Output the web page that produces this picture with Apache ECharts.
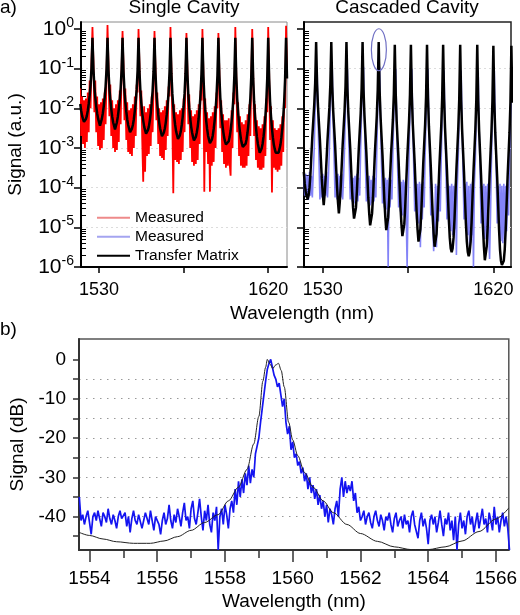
<!DOCTYPE html>
<html>
<head>
<meta charset="utf-8">
<script src="https://cdn.jsdelivr.net/npm/echarts@6/dist/echarts.min.js"></script>
<style>
  html, body { margin: 0; padding: 0; background: #fff; }
  #chart { width: 520px; height: 615px; }
</style>
</head>
<body>
<div id="chart"></div>
<script>
// ---- top panels: one sample every 0.5 nm from 1520 nm, values are log10(signal)
const topStart = 1520;
const topStep = 0.5;

const singleMeasured = [
  -1.5, -2.7, -1.7, -2.9, -1.8, -3.0, -1.75, -2.85, -1.6, -2.6, -1.3, -2.0, -0.8, 0.05,
  -0.8, -2.1, -1.3, -2.6, -1.7, -2.95, -1.9, -3.05, -1.85, -3.0, -1.75, -2.8, -1.6, -2.4, -1.1, 0.1,
  -0.85, -2.2, -1.4, -2.7, -1.8, -3.0, -2.0, -3.1, -1.9, -3.05, -1.8, -2.85, -1.55, -2.4, -1.0, -0.05,
  -0.9, -2.3, -1.5, -2.8, -1.85, -3.1, -2.05, -3.15, -2.0, -3.2, -1.9, -3.0, -1.7, -2.7, -1.4, -1.6, 0.0,
  -0.9, -2.2, -1.55, -2.85, -3.85, -1.95, -3.6, -2.1, -3.2, -2.0, -3.15, -1.9, -2.95, -1.7, -2.6, -1.5, -0.05,
  -0.95, -2.3, -1.6, -2.9, -2.0, -3.2, -2.1, -3.25, -2.05, -3.3, -1.95, -3.05, -1.8, -2.7, -1.45, -1.7, 0.05,
  -1.0, -2.4, -4.14, -1.9, -3.3, -2.1, -3.35, -2.15, -3.4, -2.05, -3.3, -2.0, -3.1, -1.75, -2.6, -1.2, -0.1,
  -1.0, -2.4, -1.65, -3.0, -2.05, -3.35, -2.2, -3.45, -2.15, -3.4, -2.05, -3.3, -1.9, -2.9, -1.55, -1.8, 0.0,
  -1.05, -4.1, -1.75, -3.1, -2.1, -3.4, -2.25, -4.1, -2.2, -3.45, -2.1, -3.35, -1.95, -3.0, -1.6, -2.0, -0.1,
  -1.05, -2.5, -1.8, -3.1, -2.15, -3.4, -2.3, -3.5, -2.3, -3.45, -2.25, -3.4, -3.7, -2.05, -3.0, -1.6, -1.9, 0.05,
  -1.1, -2.6, -1.85, -3.2, -2.2, -3.45, -2.35, -3.5, -2.4, -3.5, -2.3, -3.45, -2.15, -3.2, -1.9, -2.7, -1.3, 0.0,
  -1.1, -2.7, -1.9, -3.3, -2.3, -3.5, -2.45, -3.55, -2.5, -3.55, -2.4, -3.5, -2.2, -3.2, -1.75, -2.1, 0.05,
  -1.1, -2.8, -1.95, -4.12, -2.3, -3.5, -2.5, -3.55, -2.55, -3.6, -2.5, -3.55, -2.4, -3.45, -2.2, -3.1, -1.75, -2.0, 0.08,
  -1.0
];

const singleModel = [
  -1.89, -2.06, -2.19, -2.27, -2.34, -2.34, -2.27, -2.19, -2.06, -1.89, -1.68, -1.40, -0.97, -0.22,
  -1.00, -1.44, -1.73, -1.95, -2.13, -2.26, -2.35, -2.44, -2.35, -2.26, -2.13, -1.95, -1.73, -1.44, -1.00, -0.22,
  -1.03, -1.49, -1.79, -2.02, -2.21, -2.35, -2.44, -2.53, -2.44, -2.35, -2.21, -2.02, -1.79, -1.49, -1.03, -0.22,
  -1.06, -1.53, -1.85, -2.08, -2.28, -2.42, -2.51, -2.60, -2.60, -2.51, -2.42, -2.28, -2.08, -1.85, -1.53, -1.06, -0.22,
  -1.07, -1.56, -1.87, -2.12, -2.31, -2.46, -2.55, -2.64, -2.64, -2.55, -2.46, -2.31, -2.12, -1.87, -1.56, -1.07, -0.22,
  -1.09, -1.59, -1.91, -2.16, -2.36, -2.51, -2.61, -2.70, -2.70, -2.61, -2.51, -2.36, -2.16, -1.91, -1.59, -1.09, -0.22,
  -1.12, -1.63, -1.96, -2.22, -2.42, -2.58, -2.68, -2.77, -2.77, -2.68, -2.58, -2.42, -2.22, -1.96, -1.63, -1.12, -0.22,
  -1.13, -1.65, -1.99, -2.25, -2.46, -2.61, -2.72, -2.81, -2.81, -2.72, -2.61, -2.46, -2.25, -1.99, -1.65, -1.13, -0.22,
  -1.16, -1.69, -2.04, -2.31, -2.52, -2.69, -2.79, -2.88, -2.88, -2.79, -2.69, -2.52, -2.31, -2.04, -1.69, -1.16, -0.22,
  -1.17, -1.72, -2.07, -2.34, -2.56, -2.72, -2.83, -2.91, -2.94, -2.91, -2.83, -2.72, -2.56, -2.34, -2.07, -1.72, -1.17, -0.22,
  -1.19, -1.75, -2.11, -2.39, -2.61, -2.78, -2.89, -2.97, -3.00, -2.97, -2.89, -2.78, -2.61, -2.39, -2.11, -1.75, -1.19, -0.22,
  -1.24, -1.82, -2.20, -2.49, -2.72, -2.90, -3.01, -3.12, -3.12, -3.01, -2.90, -2.72, -2.49, -2.20, -1.82, -1.24, -0.22,
  -1.25, -1.83, -2.21, -2.51, -2.74, -2.92, -3.03, -3.12, -3.15, -3.15, -3.12, -3.03, -2.92, -2.74, -2.51, -2.21, -1.83, -1.25, -0.22,
  -1.25
];

const cascadedMeasured = [
  -3.7, -4.2, -3.65, -4.25, -3.7, -4.3, -3.6, -4.2, -3.7, -4.25, -3.6, -3.0, -2.0, -1.5,
  -0.95, -2.2, -3.3, -4.3, -3.7, -4.25, -3.65, -4.3, -3.7, -4.2, -3.6, -4.25, -3.7, -3.0, -2.0, -1.5,
  -1.0, -2.3, -3.3, -4.25, -3.7, -4.3, -3.65, -4.35, -3.7, -4.25, -3.65, -4.3, -3.7, -3.0, -2.0, -1.5,
  -1.0, -2.2, -3.4, -4.3, -3.7, -4.35, -3.75, -4.4, -3.7, -4.3, -3.65, -4.35, -3.75, -4.2, -3.0, -2.0, -1.5,
  -0.95, -2.3, -3.4, -4.35, -3.75, -4.4, -3.7, -4.45, -3.8, -4.4, -3.7, -4.35, -3.75, -4.25, -3.1, -2.0, -1.5,
  -0.95, -2.3, -3.4, -4.4, -3.8, -4.5, -3.75, -4.55, -3.8, -6.0, -3.75, -4.5, -3.8, -4.3, -3.1, -2.1, -1.6,
  -1.0, -2.3, -3.5, -4.5, -3.8, -4.6, -3.85, -4.7, -3.8, -4.75, -3.85, -4.6, -6.0, -4.4, -3.2, -2.1, -1.6,
  -1.0, -2.4, -3.5, -4.6, -3.85, -4.8, -3.9, -4.9, -3.85, -5.5, -3.9, -4.8, -3.85, -4.5, -3.2, -2.2, -1.6,
  -1.0, -2.4, -3.6, -4.7, -3.9, -4.9, -5.6, -5.0, -3.9, -5.5, -3.95, -4.85, -3.9, -4.6, -3.3, -2.2, -1.6,
  -1.05, -2.5, -3.6, -4.8, -3.9, -5.0, -3.95, -5.1, -3.9, -5.2, -3.95, -5.05, -3.9, -5.7, -3.95, -3.2, -2.2, -1.6,
  -1.05, -2.5, -3.6, -4.8, -3.9, -5.1, -3.85, -5.2, -3.95, -5.6, -3.9, -5.2, -3.85, -6.0, -3.9, -3.3, -2.2, -1.6,
  -1.05, -2.5, -3.6, -4.9, -3.95, -5.2, -3.9, -5.3, -3.95, -5.25, -3.9, -5.1, -5.8, -4.7, -3.3, -2.2, -1.6,
  -1.05, -2.5, -3.6, -4.9, -3.95, -5.2, -3.9, -5.35, -3.95, -5.4, -3.9, -5.3, -3.95, -5.1, -3.9, -4.7, -3.3, -2.2, -1.6,
  -1.0
];

const cascadedModel = [
  -3.60, -3.90, -4.10, -4.22, -4.28, -4.20, -4.00, -3.65, -3.17, -2.70, -2.31, -1.91, -1.36, -0.33,
  -1.40, -1.97, -2.39, -2.80, -3.29, -3.78, -4.15, -4.44, -4.15, -3.78, -3.29, -2.80, -2.39, -1.97, -1.40, -0.33,
  -1.45, -2.06, -2.49, -2.92, -3.44, -3.96, -4.35, -4.65, -4.35, -3.96, -3.44, -2.92, -2.49, -2.06, -1.45, -0.33,
  -1.50, -2.13, -2.58, -3.02, -3.56, -4.10, -4.51, -4.78, -4.78, -4.51, -4.10, -3.56, -3.02, -2.58, -2.13, -1.50, -0.33,
  -1.54, -2.19, -2.66, -3.12, -3.68, -4.24, -4.65, -4.95, -4.95, -4.65, -4.24, -3.68, -3.12, -2.66, -2.19, -1.54, -0.33,
  -1.57, -2.23, -2.71, -3.18, -3.75, -4.32, -4.75, -5.07, -5.07, -4.75, -4.32, -3.75, -3.18, -2.75, -2.28, -1.64, -0.40,
  -1.66, -2.34, -2.83, -3.32, -3.90, -4.48, -4.92, -5.22, -5.22, -4.92, -4.48, -3.90, -3.32, -2.83, -2.34, -1.66, -0.40,
  -1.70, -2.40, -2.90, -3.40, -4.00, -4.60, -5.05, -5.36, -5.36, -5.05, -4.60, -4.00, -3.40, -2.90, -2.40, -1.70, -0.40,
  -1.73, -2.45, -2.97, -3.48, -4.09, -4.71, -5.17, -5.49, -5.49, -5.17, -4.71, -4.09, -3.48, -2.97, -2.45, -1.73, -0.40,
  -1.76, -2.49, -3.02, -3.54, -4.17, -4.79, -5.26, -5.53, -5.63, -5.53, -5.26, -4.79, -4.17, -3.54, -3.02, -2.49, -1.76, -0.40,
  -1.79, -2.53, -3.07, -3.60, -4.24, -4.88, -5.36, -5.62, -5.73, -5.62, -5.36, -4.88, -4.24, -3.60, -3.07, -2.53, -1.79, -0.40,
  -1.82, -2.58, -3.13, -3.68, -4.33, -4.99, -5.48, -5.83, -5.83, -5.48, -4.99, -4.33, -3.68, -3.13, -2.58, -1.82, -0.42,
  -1.86, -2.62, -3.18, -3.73, -4.40, -5.06, -5.56, -5.84, -5.95, -5.95, -5.84, -5.56, -5.06, -4.40, -3.73, -3.18, -2.62, -1.86, -0.42,
  -1.86
];

const decadeTicks = [1e-6, 1e-5, 1e-4, 1e-3, 1e-2, 1e-1, 1];
const topTickValues = [1530, 1575, 1620];
const topLabelValues = [1530, 1620];

// ---- bottom panel: one sample every 0.05 nm from 1553.7 nm, values in dB
const dbStart = 1553.7;
const dbStep = 0.05;
const dbMeasured = [
  -35, -41, -39.5, -42, -40, -38.5, -41.5, -44.5, -40, -39,
  -41, -38.5, -40.5, -42.5, -39, -40, -41.5, -38, -40.5, -42,
  -39.5, -41, -43, -40, -38.5, -40.5, -41, -39, -42.5, -40,
  -44, -40.5, -38.5, -41, -42, -39.5, -40, -43, -41, -39,
  -40.5, -42, -38.5, -41, -43.5, -40, -39.5, -42, -44.5, -41,
  -39, -42, -40.5, -37, -41, -43, -39.5, -41.5, -38, -40,
  -42.5, -39, -36.5, -41, -40, -43, -38, -36, -40.5, -42,
  -39, -35.5, -40, -43.5, -38.5, -41, -37, -42, -44, -39,
  -41, -37.5, -48.5, -40, -38, -42, -37, -39.5, -43, -38,
  -36, -39, -33, -37, -31, -35, -30.5, -34, -29, -32,
  -27, -31.5, -28, -30, -24, -22, -20, -16, -12.5, -9,
  -5.5, -2.5, -1, 0, -2, -4, -5, -7, -6, -9,
  -12, -10, -16, -19, -17, -23, -21, -25, -24, -27,
  -26, -29, -27.5, -31, -29, -33, -30, -34, -32, -35.5,
  -33, -37, -34.5, -38, -36, -40, -37, -41.5, -38, -39.5,
  -42, -38, -36, -40, -33, -30, -35, -31, -34, -32,
  -33.5, -31, -36, -34, -39, -37.5, -41, -40, -38.5, -42,
  -40, -39, -41.5, -43, -40, -38.5, -41, -42.5, -39.5, -41,
  -43.5, -40, -41, -39, -42, -44, -40.5, -39, -42.5, -41,
  -40, -43, -39.5, -42, -41, -44, -40, -38.5, -42, -41.5,
  -45.5, -41, -39, -42.5, -40.5, -43, -47, -41, -39.5, -42,
  -40, -44, -41.5, -38.5, -42, -45, -40.5, -42, -39, -43.5,
  -41, -46, -40, -48.5, -42, -39, -43, -41, -44.5, -40,
  -38.5, -42, -40, -44, -41.5, -39, -43, -40.5, -38, -42,
  -40.5, -44, -39, -41, -43.5, -37.5, -42, -40, -44, -41,
  -39, -42.5, -40, -43, -48.5
];

const modelWl = [1553.69, 1554.0, 1554.4, 1554.8, 1555.3, 1555.8, 1556.2, 1556.6, 1557.0, 1557.4,
  1557.8, 1558.1, 1558.4, 1558.65, 1558.85, 1559.0, 1559.12, 1559.2, 1559.25, 1559.33,
  1559.41, 1559.5, 1559.58, 1559.66, 1559.75, 1559.88, 1560.0, 1560.15, 1560.35, 1560.6,
  1560.9, 1561.2, 1561.6, 1562.0, 1562.5, 1563.0, 1563.5, 1564.0, 1564.5, 1565.0,
  1565.5, 1566.0, 1566.38];
const modelDb = [-44.0, -44.8, -45.7, -46.4, -46.8, -46.8, -46.2, -45.1, -43.5, -41.5,
  -39.5, -36.0, -32.5, -28.0, -21.5, -14.5, -5.5, -2.0, 0, -1.2,
  -2.3, -1.4, -1.0, -2.8, -7.0, -16.0, -20.5, -24.5, -28.8, -32.5,
  -36.0, -39.0, -42.0, -44.3, -46.3, -47.7, -48.4, -48.4, -47.7, -46.2,
  -43.8, -40.6, -37.8];

const dbTickValues = [-45, -40, -35, -30, -25, -20, -15, -10, -5, 0];
const dbLabelValues = [-40, -30, -20, -10, 0];
const wlMajorTicks = [1554, 1556, 1558, 1560, 1562, 1564, 1566];
const wlMinorTicks = [1555, 1557, 1559, 1561, 1563, 1565];

const FONT = '"Liberation Sans", Arial, sans-serif';

// log minor ticks 2..9 of each decade
const minorLogTicks = [];
decadeTicks.slice(0, -1).forEach(function (d) {
  for (let k = 2; k <= 9; k++) minorLogTicks.push(k * d);
});

const toTop = arr => arr.map((e, i) => [topStart + i * topStep, Math.pow(10, e)]);
const plain = v => String(v);

function logAxis(grid, withLabels, extra) {
  return Object.assign({
    type: 'log',
    gridIndex: grid,
    min: 1e-6,
    max: 1.5,
    position: 'left',
    axisLine: { show: true, lineStyle: { color: '#000', width: 2 } },
    axisTick: { show: true, length: 7, customValues: decadeTicks, lineStyle: { color: '#000', width: 1.5 } },
    axisLabel: {
      show: withLabels,
      customValues: decadeTicks,
      margin: 7,
      formatter: function (v) {
        return '{b|10}{s|' + Math.round(Math.log10(v)) + '}';
      },
      rich: {
        b: { fontSize: 21, fontFamily: FONT, color: '#000', lineHeight: 26 },
        s: { fontSize: 14, fontFamily: FONT, color: '#000', lineHeight: 15, verticalAlign: 'top' },
      },
    },
    splitLine: {
      show: true,
      showMinLine: false,
      showMaxLine: false,
      lineStyle: { color: '#dcdcdc', width: 1, type: [2, 3] },
    },
  }, extra || {});
}

function minorLogAxis(grid) {
  return {
    type: 'log',
    gridIndex: grid,
    min: 1e-6,
    max: 1.5,
    position: 'left',
    axisLine: { show: false },
    axisTick: { show: true, inside: true, length: 5, customValues: minorLogTicks, lineStyle: { color: '#000', width: 1 } },
    axisLabel: { show: false },
    splitLine: { show: false },
  };
}

function topXAxis(grid, min, max) {
  return {
    type: 'value',
    gridIndex: grid,
    min: min,
    max: max,
    position: 'bottom',
    axisLine: { show: true, onZero: false, lineStyle: { color: '#000', width: 2 } },
    axisTick: { show: true, length: 6, customValues: topTickValues, lineStyle: { color: '#000', width: 1.5 } },
    axisLabel: { customValues: topLabelValues, formatter: plain, margin: 14, fontSize: 18, fontFamily: FONT, color: '#000' },
    splitLine: { show: false },
  };
}

const chart = echarts.init(document.getElementById('chart'));

chart.setOption({
  animation: false,
  backgroundColor: '#fff',
  grid: [
    { left: 81, top: 22, width: 206, height: 245, show: true, borderColor: '#8a8a8a', borderWidth: 1 },
    { left: 304, top: 22, width: 207, height: 245, show: true, borderColor: '#222', borderWidth: 1.5 },
    { left: 77, top: 339, width: 435, height: 211, show: true, borderColor: '#555', borderWidth: 1.5 },
  ],
  xAxis: [
    topXAxis(0, 1520.4, 1630),
    topXAxis(1, 1520.1, 1629.3),
    {
      type: 'value',
      gridIndex: 2,
      min: 1553.69,
      max: 1566.38,
      position: 'bottom',
      name: 'Wavelength (nm)',
      nameLocation: 'middle',
      nameGap: 42,
      nameTextStyle: { fontSize: 19, fontFamily: FONT, color: '#000' },
      axisLine: { show: true, onZero: false, lineStyle: { color: '#333', width: 2 } },
      axisTick: { show: true, length: 12, customValues: wlMajorTicks, lineStyle: { color: '#333', width: 1.5 } },
      axisLabel: { customValues: wlMajorTicks, formatter: plain, margin: 19, fontSize: 19, fontFamily: FONT, color: '#000' },
      splitLine: { show: false },
    },
    {
      type: 'value',
      gridIndex: 2,
      min: 1553.69,
      max: 1566.38,
      position: 'bottom',
      axisLine: { show: false, onZero: false },
      axisTick: { show: true, length: 8, customValues: wlMinorTicks, lineStyle: { color: '#333', width: 1.5 } },
      axisLabel: { show: false },
      splitLine: { show: false },
    },
  ],
  yAxis: [
    logAxis(0, true, {
      name: 'Signal (a.u.)',
      nameLocation: 'middle',
      nameGap: 56,
      nameTextStyle: { fontSize: 19, fontFamily: FONT, color: '#000' },
    }),
    minorLogAxis(0),
    logAxis(1, false),
    minorLogAxis(1),
    {
      type: 'value',
      gridIndex: 2,
      min: -48.5,
      max: 5.2,
      position: 'left',
      name: 'Signal (dB)',
      nameLocation: 'middle',
      nameGap: 52,
      nameTextStyle: { fontSize: 19, fontFamily: FONT, color: '#000' },
      axisLine: { show: true, onZero: false, lineStyle: { color: '#333', width: 2 } },
      axisTick: { show: true, length: 6, customValues: dbTickValues, lineStyle: { color: '#333', width: 1.5 } },
      axisLabel: { customValues: dbLabelValues, margin: 13, fontSize: 19, fontFamily: FONT, color: '#000' },
      splitLine: {
        show: true,
        showMinLine: false,
        showMaxLine: false,
        lineStyle: { color: '#999', width: 1.2, type: [1.5, 5.5] },
      },
    },
  ],
  legend: {
    left: 97,
    top: 209,
    orient: 'vertical',
    padding: 0,
    itemWidth: 33,
    itemHeight: 2,
    itemGap: 1.5,
    selectedMode: false,
    icon: 'rect',
    textStyle: { fontSize: 15.5, fontFamily: FONT, color: '#000', lineHeight: 17.5 },
    formatter: function (name) {
      return name.indexOf('Measured') === 0 ? 'Measured' : name;
    },
    data: [
      { name: 'Measured single', itemStyle: { color: '#ee8a8a' } },
      { name: 'Measured cascaded', itemStyle: { color: '#a4a4f0' } },
      { name: 'Transfer Matrix', itemStyle: { color: '#000' } },
    ],
  },
  graphic: [
    { type: 'text', x: 0, y: -2, style: { text: 'a)', font: '19px ' + FONT, fill: '#000' } },
    { type: 'text', x: 184, y: -2, style: { text: 'Single Cavity', font: '19px ' + FONT, fill: '#000', textAlign: 'center' } },
    { type: 'text', x: 407, y: -2, style: { text: 'Cascaded Cavity', font: '19px ' + FONT, fill: '#000', textAlign: 'center' } },
    { type: 'text', x: 302, y: 304, style: { text: 'Wavelength (nm)', font: '19px ' + FONT, fill: '#000', textAlign: 'center' } },
    { type: 'text', x: 0, y: 320, style: { text: 'b)', font: '19px ' + FONT, fill: '#000' } },
  ],
  series: [
    {
      name: 'Measured single',
      type: 'line',
      xAxisIndex: 0,
      yAxisIndex: 0,
      data: toTop(singleMeasured),
      symbol: 'none',
      silent: true,
      lineStyle: { color: '#ff0000', width: 1.8 },
      itemStyle: { color: '#ff0000' },
    },
    {
      name: 'Transfer Matrix',
      type: 'line',
      xAxisIndex: 0,
      yAxisIndex: 0,
      data: toTop(singleModel),
      symbol: 'none',
      silent: true,
      lineStyle: { color: '#000', width: 2.5 },
      itemStyle: { color: '#000' },
    },
    {
      name: 'Measured cascaded',
      type: 'line',
      xAxisIndex: 1,
      yAxisIndex: 2,
      data: toTop(cascadedMeasured),
      symbol: 'none',
      silent: true,
      lineStyle: { color: 'rgba(100, 100, 245, 0.8)', width: 1.6 },
      itemStyle: { color: '#8888ee' },
    },
    {
      name: 'Transfer Matrix cascaded',
      type: 'line',
      xAxisIndex: 1,
      yAxisIndex: 2,
      data: toTop(cascadedModel),
      symbol: 'none',
      silent: true,
      lineStyle: { color: '#000', width: 2.5 },
    },
    {
      type: 'custom',
      xAxisIndex: 1,
      yAxisIndex: 2,
      silent: true,
      z: 5,
      data: [[1559.6, 0.3]],
      renderItem: function (params, api) {
        const c = api.coord([api.value(0), api.value(1)]);
        return {
          type: 'ellipse',
          shape: { cx: c[0], cy: c[1], rx: 7.5, ry: 21 },
          style: { fill: 'none', stroke: '#7070c4', lineWidth: 1.2 },
        };
      },
    },
    {
      name: 'dB measured',
      type: 'line',
      xAxisIndex: 2,
      yAxisIndex: 4,
      data: dbMeasured.map((v, i) => [dbStart + i * dbStep, v]),
      symbol: 'none',
      silent: true,
      lineStyle: { color: '#1414f0', width: 1.7 },
    },
    {
      name: 'dB model',
      type: 'line',
      xAxisIndex: 2,
      yAxisIndex: 4,
      data: modelWl.map((w, i) => [w, modelDb[i]]),
      symbol: 'none',
      smooth: 0.3,
      smoothMonotone: 'x',
      silent: true,
      lineStyle: { color: '#222', width: 1 },
    },
  ],
});
</script>
</body>
</html>
